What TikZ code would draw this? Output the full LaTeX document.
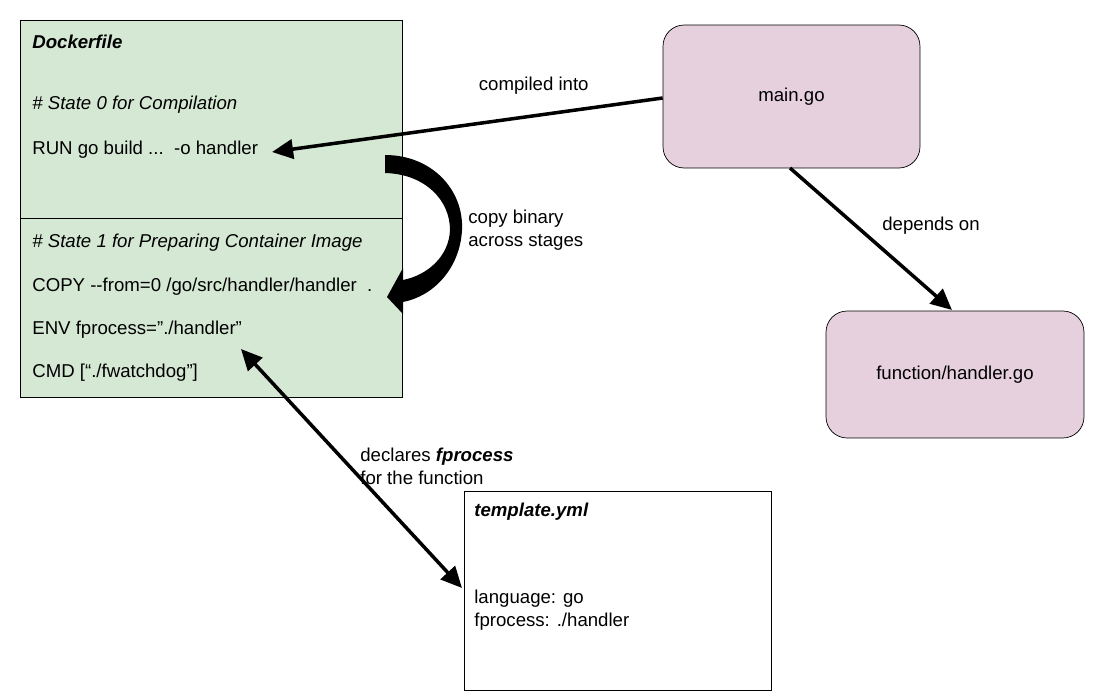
\documentclass[tikz,border=0pt]{standalone}
\usepackage{fontspec}
\setmainfont{Liberation Sans}
\usetikzlibrary{arrows.meta}
\definecolor{dockgreen}{HTML}{D5E8D4}
\definecolor{gopink}{HTML}{E6D0DE}
\tikzset{
  txt/.style = {anchor=west, inner sep=0pt, font=\fontsize{10.6}{13}\selectfont},
  gobox/.style = {draw, rounded corners=12pt, fill=gopink, font=\fontsize{10.6}{13}\selectfont},
  link/.style = {line width=2pt, -{Triangle[length=12pt,width=11pt]}},
}
\begin{document}
\begin{tikzpicture}[x=0.02cm, y=-0.02cm]
	\useasboundingbox (0,0) rectangle (1103,700);
	% dockerfile box
	\draw [fill=dockgreen] (20,20) rectangle (402,397);
	\draw (20,218) -- (402,218);
	\node [txt, font=\fontsize{10.6}{13}\selectfont\bfseries\itshape] (df) at (32,42) {Dockerfile};
	\node [txt, font=\fontsize{10.6}{13}\selectfont\itshape] (st0) at (32,105) {\# State 0 for Compilation};
	\node [txt] (run) at (32,150) {RUN go build ...\ \ -o handler};
	\node [txt, font=\fontsize{10.6}{13}\selectfont\itshape] (st1) at (32,243) {\# State 1 for Preparing Container Image};
	\node [txt] (copy) at (32,287) {COPY {-}{-}from=0 /go/src/handler/handler\ \ .};
	\node [txt] (env) at (32,330) {ENV fprocess=”./handler”};
	\node [txt] (cmd) at (32,373) {CMD [“./fwatchdog”]};
	% go sources
	\node [gobox, minimum width=5.14cm, minimum height=2.86cm] (main) at (791.5,96.5) {main.go};
	\node [gobox, minimum width=5.16cm, minimum height=2.54cm] (handler) at (955,374.5) {function/handler.go};
	% template
	\draw (464,491) rectangle (771,690);
	\node [txt, font=\fontsize{10.6}{13}\selectfont\bfseries\itshape] (tpl) at (474,512) {template.yml};
	\node [txt, align=left] (lang) at (474,610) {language: go\\fprocess: ./handler};
	\coordinate (runend) at (272,152);
	\coordinate (envpt) at (241,349);
	\coordinate (dep) at (790,168);
	\coordinate (hdl) at (952,310);
	\coordinate (tplpt) at (462,588);
	% connectors
	\draw [link] (main.west |- 0,98) -- node [above=8pt, pos=0.33, font=\fontsize{10.6}{13}\selectfont] {compiled into} (runend);
	\draw [link] (dep) -- (hdl);
	\node [txt] (deplbl) at (882,226) {depends on};
	\draw [link, {Triangle[length=12pt,width=11pt]}-{Triangle[length=12pt,width=11pt]}] (envpt) -- (tplpt);
	\node [txt, align=left] (decl) at (360,466) {declares \textbf{\textit{fprocess}}\\for the function};
	% copy across stages
	\fill (385,155) .. controls (432,155) and (464,190) .. (462,230)
		.. controls (460,268) and (434,296) .. (403,302) -- (403,314) -- (387,297) -- (403,268) -- (403,280)
		.. controls (428,275) and (449,256) .. (450,230)
		.. controls (450,200) and (425,174) .. (385,173) -- cycle;
	\node [txt, align=left] (cplbl) at (468,230) {copy binary\\across stages};
\end{tikzpicture}
\end{document}
